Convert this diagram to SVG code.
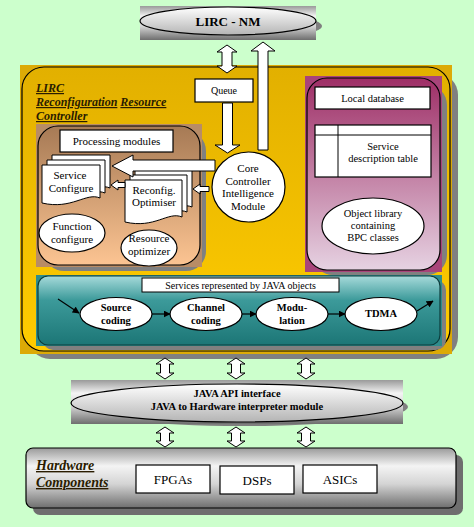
<svg xmlns="http://www.w3.org/2000/svg" width="474" height="527" viewBox="0 0 474 527">
<defs>
  <linearGradient id="metal" x1="0" y1="0" x2="0" y2="1">
    <stop offset="0" stop-color="#9a9a9a"/>
    <stop offset="0.3" stop-color="#f4f4f4"/>
    <stop offset="0.6" stop-color="#d4d4d4"/>
    <stop offset="1" stop-color="#6e6e6e"/>
  </linearGradient>
  <linearGradient id="ell" x1="0" y1="0" x2="0" y2="1">
    <stop offset="0" stop-color="#ffffff"/>
    <stop offset="1" stop-color="#b4b4b4"/>
  </linearGradient>
  <linearGradient id="gold" x1="0" y1="0" x2="0" y2="1">
    <stop offset="0" stop-color="#e2b000"/>
    <stop offset="1" stop-color="#ffcc00"/>
  </linearGradient>
  <linearGradient id="brown" x1="0" y1="0" x2="0" y2="1">
    <stop offset="0" stop-color="#a67a55"/>
    <stop offset="1" stop-color="#fcc492"/>
  </linearGradient>
  <linearGradient id="mag" x1="0" y1="0" x2="0" y2="1">
    <stop offset="0" stop-color="#9e2e66"/>
    <stop offset="1" stop-color="#e6d2e2"/>
  </linearGradient>
  <linearGradient id="teal" x1="0" y1="0" x2="0" y2="1">
    <stop offset="0" stop-color="#a6dada"/>
    <stop offset="0.35" stop-color="#3c9a9a"/>
    <stop offset="1" stop-color="#1c7676"/>
  </linearGradient>
  <marker id="ah" viewBox="0 0 10 10" refX="9" refY="5" markerWidth="7" markerHeight="7" orient="auto" markerUnits="userSpaceOnUse">
    <path d="M0,0 L10,5 L0,10 Z" fill="#000"/>
  </marker>
  <style>
    .t{font-family:"Liberation Serif","Times New Roman",serif;fill:#000;text-anchor:middle}
    .b{font-weight:bold}
    .wb{fill:#fff;stroke:#000;stroke-width:1.2}
    .blk{fill:#fff;stroke:#000;stroke-width:1}
    .sh{fill:#808080}
    .ttl{font-family:"Liberation Serif","Times New Roman",serif;font-weight:bold;font-style:italic;fill:#2a1c00}
    .u{text-decoration:underline}
    .pl{stroke:#000;stroke-width:1.2;fill:none;marker-end:url(#ah)}
  </style>
</defs>

<rect width="474" height="527" fill="#ccffcc"/>

<!-- LIRC-NM -->
<g id="lirc-nm">
  <ellipse cx="234" cy="26" rx="88" ry="14" class="sh"/>
  <rect x="140" y="6" width="176" height="34" fill="url(#metal)"/>
  <ellipse cx="228" cy="21" rx="88" ry="14" fill="url(#ell)" stroke="#000" stroke-width="1.2"/>
  <text x="228" y="26" class="t b" font-size="13">LIRC - NM</text>
</g>

<!-- Main LIRC controller -->
<g id="lirc-controller">
  <rect x="28" y="73" width="430" height="286" rx="22" class="sh"/>
  <rect x="20" y="65" width="432" height="289" fill="#dcaa06"/>
  <rect x="22" y="67" width="428" height="284" rx="22" fill="url(#gold)" stroke="#000" stroke-width="1.2"/>
  <text class="ttl" font-size="12"><tspan x="36" y="92" class="u">LIRC</tspan><tspan x="36" y="106" class="u">Reconfiguration</tspan><tspan> </tspan><tspan class="u">Resource</tspan><tspan x="36" y="120" class="u">Controller</tspan></text>
</g>

<!-- Processing modules panel -->
<g id="processing-panel">
  <rect x="44" y="131" width="162" height="140" rx="20" class="sh"/>
  <rect x="36" y="124" width="166" height="143" fill="#b88c66"/>
  <rect x="38" y="126" width="162" height="139" rx="20" fill="url(#brown)" stroke="#000" stroke-width="1.2"/>
</g>
<g id="processing-modules">
  <rect x="60" y="130" width="113" height="22" class="wb"/>
  <text x="116.5" y="145" class="t" font-size="11">Processing modules</text>
</g>

<!-- Magenta panel -->
<g id="database-panel">
  <rect x="313" y="85" width="134" height="190" rx="20" class="sh"/>
  <rect x="305" y="76" width="137" height="196" fill="#a8447a"/>
  <rect x="307" y="78" width="133" height="192" rx="20" fill="url(#mag)" stroke="#000" stroke-width="1.2"/>
</g>
<g id="local-database">
  <rect x="315" y="87" width="115" height="22" class="wb"/>
  <text x="372.5" y="102" class="t" font-size="10.5">Local database</text>
</g>
<g id="service-table">
  <rect x="315" y="125" width="116" height="52" class="wb"/>
  <line x1="315" y1="135" x2="431" y2="135" stroke="#000" stroke-width="1"/>
  <line x1="338" y1="125" x2="338" y2="177" stroke="#000" stroke-width="1"/>
  <text x="383" y="150" class="t" font-size="10.5">Service</text>
  <text x="383" y="162" class="t" font-size="10.5">description table</text>
</g>
<g id="object-library">
  <ellipse cx="373" cy="226" rx="51" ry="28" class="wb"/>
  <text x="373" y="217" class="t" font-size="10.5">Object library</text>
  <text x="373" y="229" class="t" font-size="10.5">containing</text>
  <text x="373" y="241" class="t" font-size="10.5">BPC classes</text>
</g>

<!-- Service configure stack -->
<g id="service-configure">
  <path d="M52,155 H110 V188 C96,182 82,200 52,193 Z" class="blk"/>
  <path d="M47,160 H105 V193 C91,187 77,205 47,198 Z" class="blk"/>
  <path d="M42,165 H100 V198 C86,192 72,210 42,203 Z" class="blk"/>
  <text x="70" y="179" class="t" font-size="11">Service</text>
  <text x="71" y="192" class="t" font-size="11">Configure</text>
</g>

<!-- Reconfig optimiser stack -->
<g id="reconfig-optimiser">
  <path d="M135,170 H192 V207 C178,201 165,219 135,212 Z" class="blk"/>
  <path d="M130,175 H187 V212 C173,206 160,224 130,217 Z" class="blk"/>
  <path d="M125,180 H182 V217 C168,211 155,229 125,222 Z" class="blk"/>
  <text x="154" y="194" class="t" font-size="11">Reconfig.</text>
  <text x="154" y="206" class="t" font-size="11">Optimiser</text>
</g>

<g id="function-configure">
  <ellipse cx="72" cy="233" rx="33" ry="19" class="wb"/>
  <text x="72" y="230" class="t" font-size="11">Function</text>
  <text x="72" y="243" class="t" font-size="11">configure</text>
</g>
<g id="resource-optimizer">
  <ellipse cx="149" cy="248" rx="28" ry="18" class="wb"/>
  <text x="149" y="242" class="t" font-size="11">Resource</text>
  <text x="149" y="255" class="t" font-size="11">optimizer</text>
</g>

<!-- Queue -->
<g id="queue">
  <rect x="195" y="79" width="58" height="23" class="wb"/>
  <text x="224" y="94" class="t" font-size="10">Queue</text>
</g>

<!-- Connectors (block arrows) -->
<g id="connectors">
  <path d="M227,45 L237,52 L232,52 L232,66 L237,66 L227,73 L217,66 L222,66 L222,52 L217,52 Z" class="blk"/>
  <path d="M263,42 L275,51 L268,51 L268,150 L258,150 L258,51 L251,51 Z" class="blk"/>
  <path d="M222.5,103 L232.5,103 L232.5,145 L240,145 L227.5,153 L215,145 L222.5,145 Z" class="blk"/>
  <path d="M215,160 L133,160 L133,155 L112,166 L133,177 L133,171 L215,171 Z" class="blk"/>
  <path d="M125,182.5 L118,182.5 L118,180 L111,185 L118,190 L118,187.5 L125,187.5 Z" class="blk"/>
  <path d="M209,186.5 L200,186.5 L200,184 L193,189 L200,194 L200,191.5 L209,191.5 Z" class="blk"/>
  <!-- main box to JAVA API -->
  <path d="M165,358 L174,364 L169.5,364 L169.5,373 L174,373 L165,379 L156,373 L160.5,373 L160.5,364 L156,364 Z" class="blk"/>
  <path d="M236,358 L245,364 L240.5,364 L240.5,373 L245,373 L236,379 L227,373 L231.5,373 L231.5,364 L227,364 Z" class="blk"/>
  <path d="M306,358 L315,364 L310.5,364 L310.5,373 L315,373 L306,379 L297,373 L301.5,373 L301.5,364 L297,364 Z" class="blk"/>
  <!-- JAVA API to hardware -->
  <path d="M165,427 L174,433 L169.5,433 L169.5,441 L174,441 L165,447 L156,441 L160.5,441 L160.5,433 L156,433 Z" class="blk"/>
  <path d="M236,427 L245,433 L240.5,433 L240.5,441 L245,441 L236,447 L227,441 L231.5,441 L231.5,433 L227,433 Z" class="blk"/>
  <path d="M306,427 L315,433 L310.5,433 L310.5,441 L315,441 L306,447 L297,441 L301.5,441 L301.5,433 L297,433 Z" class="blk"/>
</g>

<!-- Core controller -->
<g id="core-controller">
  <ellipse cx="248.5" cy="187" rx="36.5" ry="35" class="wb"/>
  <text x="248" y="172" class="t" font-size="11">Core</text>
  <text x="248" y="184.5" class="t" font-size="11">Controller</text>
  <text x="248" y="197" class="t" font-size="11">Intelligence</text>
  <text x="248" y="209.5" class="t" font-size="11">Module</text>
</g>

<!-- Services panel -->
<g id="services-panel">
  <rect x="43" y="280" width="403" height="70" rx="10" class="sh"/>
  <rect x="36" y="275" width="406" height="71" fill="#2f8c8c"/>
  <rect x="38" y="276" width="402" height="69" rx="10" fill="url(#teal)" stroke="#0c3c3c" stroke-width="1.2"/>
  <rect x="142" y="278" width="197" height="14" fill="#fff" stroke="#000" stroke-width="1"/>
  <text x="240.5" y="289" class="t" font-size="10">Services represented by JAVA objects</text>
</g>
<g id="source-coding">
  <ellipse cx="116" cy="314" rx="36" ry="16.5" class="wb"/>
  <text x="116" y="311" class="t b" font-size="10.5">Source</text>
  <text x="116" y="324" class="t b" font-size="10.5">coding</text>
</g>
<g id="channel-coding">
  <ellipse cx="206" cy="314" rx="36" ry="16.5" class="wb"/>
  <text x="206" y="311" class="t b" font-size="10.5">Channel</text>
  <text x="206" y="324" class="t b" font-size="10.5">coding</text>
</g>
<g id="modulation">
  <ellipse cx="292" cy="314" rx="36" ry="16.5" class="wb"/>
  <text x="292" y="311" class="t b" font-size="10.5">Modu-</text>
  <text x="292" y="324" class="t b" font-size="10.5">lation</text>
</g>
<g id="tdma">
  <ellipse cx="381" cy="314" rx="36" ry="16.5" class="wb"/>
  <text x="381" y="317" class="t b" font-size="10.5">TDMA</text>
</g>

<!-- pipeline connectors -->
<g id="pipeline-connectors">
  <line x1="58" y1="299" x2="79" y2="313" class="pl"/>
  <line x1="152" y1="314" x2="170" y2="314" class="pl"/>
  <line x1="242" y1="314" x2="256" y2="314" class="pl"/>
  <line x1="328" y1="314" x2="345" y2="314" class="pl"/>
  <line x1="417" y1="311" x2="433" y2="301" class="pl"/>
</g>

<!-- JAVA API -->
<g id="java-api">
  <ellipse cx="242" cy="407" rx="166" ry="19" class="sh"/>
  <rect x="71" y="380" width="332" height="44" fill="url(#metal)"/>
  <ellipse cx="237" cy="403" rx="166" ry="19" fill="url(#ell)" stroke="#000" stroke-width="1.2"/>
  <text x="237" y="397" class="t b" font-size="10.5">JAVA API interface</text>
  <text x="237" y="410" class="t b" font-size="10.5">JAVA to Hardware interpreter module</text>
</g>

<!-- Hardware components -->
<g id="hardware">
  <rect x="33" y="455" width="430" height="60" rx="7" fill="#6e6e6e"/>
  <rect x="26" y="448" width="430" height="60" rx="7" fill="url(#metal)" stroke="#000" stroke-width="1.2"/>
  <text class="ttl" font-size="14"><tspan x="36" y="470" class="u">Hardware</tspan><tspan x="36" y="487" class="u">Components</tspan></text>
</g>
<g id="fpgas">
  <rect x="136" y="465" width="74" height="28" class="wb"/>
  <text x="173" y="484" class="t" font-size="13">FPGAs</text>
</g>
<g id="dsps">
  <rect x="220" y="466" width="74" height="28" class="wb"/>
  <text x="257" y="485" class="t" font-size="13">DSPs</text>
</g>
<g id="asics">
  <rect x="303" y="465" width="74" height="28" class="wb"/>
  <text x="340" y="484" class="t" font-size="13">ASICs</text>
</g>
</svg>
